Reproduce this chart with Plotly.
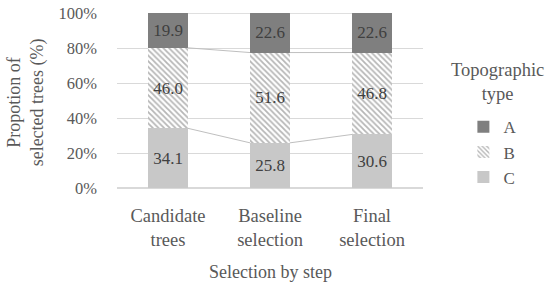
import plotly.graph_objects as go

categories = ["Candidate<br>trees", "Baseline<br>selection", "Final<br>selection"]
series_names = ["C", "B", "A"]
values_C = [34.1, 25.8, 30.6]
values_B = [46.0, 51.6, 46.8]
values_A = [19.9, 22.6, 22.6]
yticks = [0, 20, 40, 60, 80, 100]
ytick_labels = ["0%", "20%", "40%", "60%", "80%", "100%"]

FONT = "Liberation Serif, serif"
FS = 18
TXT = "#595959"
xs = list(range(len(categories)))
bar_w = 0.39

fig = go.Figure()

cum1 = values_C
cum2 = [c + b for c, b in zip(values_C, values_B)]
cum3 = [c + b + a for c, b, a in zip(values_C, values_B, values_A)]
for cum in (cum1, cum2, cum3):
    for i in range(len(xs) - 1):
        fig.add_trace(go.Scatter(
            x=[xs[i] + bar_w / 2, xs[i + 1] - bar_w / 2],
            y=[cum[i], cum[i + 1]],
            mode="lines", line=dict(color="#bfbfbf", width=1),
            showlegend=False, hoverinfo="skip"))

label_font = dict(family=FONT, size=17, color="#404040")
fig.add_trace(go.Bar(
    x=xs, y=values_C, name="C", width=bar_w,
    marker=dict(color="#c8c8c8", line=dict(width=0)),
    texttemplate="%{y:.1f}", textposition="inside", insidetextanchor="middle",
    textfont=label_font))
fig.add_trace(go.Bar(
    x=xs, y=values_B, name="B", width=bar_w,
    marker=dict(color="white", line=dict(width=0),
                pattern=dict(shape="\\", fgcolor="#6e6e6e", bgcolor="white",
                             size=4, solidity=0.45)),
    texttemplate="%{y:.1f}", textposition="inside", insidetextanchor="middle",
    textfont=label_font))
fig.add_trace(go.Bar(
    x=xs, y=values_A, name="A", width=bar_w,
    marker=dict(color="#7f7f7f", line=dict(width=0)),
    texttemplate="%{y:.1f}", textposition="inside", insidetextanchor="middle",
    textfont=label_font))

fig.update_layout(
    width=550, height=290,
    margin=dict(l=117, r=127, t=13, b=102, autoexpand=False),
    barmode="stack",
    plot_bgcolor="white", paper_bgcolor="white",
    font=dict(family=FONT, size=FS, color=TXT),
    showlegend=True,
    legend=dict(x=1.132, y=0.45, xanchor="left", yanchor="top",
                traceorder="reversed", font=dict(family=FONT, size=17, color=TXT),
                itemwidth=30, tracegroupgap=0, bgcolor="rgba(0,0,0,0)"),
    xaxis=dict(range=[-0.5, 2.5], tickvals=xs, ticktext=categories,
               showgrid=False, zeroline=False, showline=False, ticks="",
               automargin=False,
               tickfont=dict(family=FONT, size=18.5, color=TXT), ticklabelstandoff=14),
    yaxis=dict(range=[0, 100], tickvals=yticks, ticktext=ytick_labels,
               showgrid=True, gridcolor="#d9d9d9", gridwidth=1,
               zeroline=True, zerolinecolor="#d9d9d9", showline=False,
               automargin=False, ticklabeloverflow="allow",
               tickfont=dict(family=FONT, size=16.5, color=TXT), ticklabelstandoff=19),
    annotations=[
        dict(text="Propotion of<br>selected trees (%)", xref="paper", yref="paper",
             x=-0.297, y=0.49, xanchor="center", yanchor="middle", textangle=-90,
             showarrow=False, font=dict(family=FONT, size=FS, color=TXT)),
        dict(text="Selection by step", xref="paper", yref="paper",
             x=0.5, y=-0.48, xanchor="center", yanchor="middle",
             showarrow=False, font=dict(family=FONT, size=FS, color=TXT)),
        dict(text="Topographic<br>type", xref="paper", yref="paper",
             x=1.245, y=0.605, xanchor="center", yanchor="middle",
             showarrow=False, font=dict(family=FONT, size=18.5, color=TXT)),
    ],
)

fig.write_html(
    "out.html",
    config={"displayModeBar": False},
    post_script="document.body.style.margin='0';document.documentElement.style.overflow='hidden';",
)
